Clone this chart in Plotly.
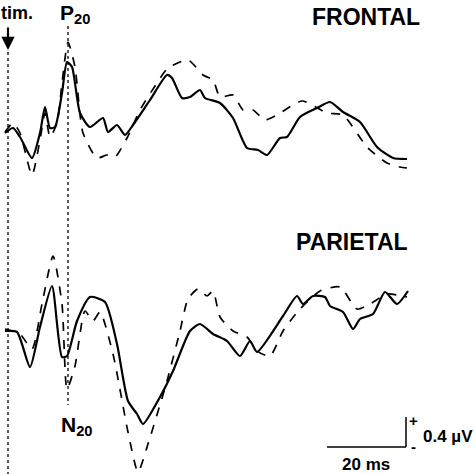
import numpy as np
import plotly.graph_objects as go

MS_PER_SAMPLE = 20 / 78.0
UV_PER_SAMPLE = 0.4 / 30.0

frontal_solid_x = [5, 13, 20, 32, 40, 45, 50, 55, 62, 67, 72, 80, 90, 103, 108, 117, 125, 133, 150, 167, 172, 182, 190, 200, 205, 220, 233, 247, 258, 267, 280, 287, 300, 317, 330, 343, 360, 377, 393, 407]
frontal_solid_y = [133, 128, 137, 158, 133, 107, 128, 127, 93, 62, 67, 113, 127, 118, 132, 125, 135, 125, 100, 75, 78, 98, 97, 90, 98, 103, 118, 148, 150, 155, 138, 137, 117, 108, 102, 112, 122, 147, 158, 159]
frontal_dash_x = [5, 13, 20, 32, 40, 45, 50, 57, 62, 68, 75, 83, 97, 107, 115, 127, 140, 157, 168, 188, 203, 213, 220, 233, 243, 253, 265, 277, 302, 327, 343, 367, 387, 400, 407]
frontal_dash_y = [132, 123, 133, 175, 140, 113, 137, 123, 83, 42, 67, 133, 158, 155, 157, 138, 110, 83, 68, 60, 75, 80, 97, 95, 110, 110, 120, 115, 101, 113, 115, 147, 163, 167, 168]
parietal_solid_x = [5, 17, 30, 40, 52, 62, 67, 77, 90, 105, 117, 128, 137, 143, 160, 173, 190, 200, 213, 227, 240, 250, 257, 283, 297, 303, 313, 325, 330, 343, 353, 360, 373, 385, 397, 408]
parietal_solid_y = [331, 332, 367, 327, 286, 357, 356, 321, 297, 302, 344, 401, 414, 424, 397, 371, 331, 324, 334, 341, 356, 341, 352, 316, 296, 304, 296, 297, 306, 312, 329, 319, 314, 292, 304, 291]
parietal_dash_x = [5, 20, 32, 42, 53, 62, 67, 75, 85, 93, 100, 113, 128, 138, 148, 167, 180, 188, 198, 207, 213, 220, 233, 247, 257, 270, 283, 300, 320, 340, 357, 370, 387, 407]
parietal_dash_y = [329, 334, 349, 304, 256, 304, 389, 366, 311, 321, 312, 354, 432, 472, 444, 381, 331, 299, 289, 296, 291, 317, 331, 337, 351, 356, 331, 309, 291, 287, 309, 304, 294, 297]

STIM = 8

def t(xs):
    return (np.array(xs) - STIM) * MS_PER_SAMPLE

def v(ys):
    return -np.array(ys) * UV_PER_SAMPLE

fig = go.Figure()
for xs, ys, dash in [(frontal_solid_x, frontal_solid_y, "solid"),
                     (frontal_dash_x, frontal_dash_y, "dash"),
                     (parietal_solid_x, parietal_solid_y, "solid"),
                     (parietal_dash_x, parietal_dash_y, "dash")]:
    fig.add_trace(go.Scatter(x=t(xs), y=v(ys), mode="lines", line_shape="spline",
                             line=dict(color="black", width=2.2 if dash == "solid" else 1.7, dash=dash,
                                       smoothing=0.6)))

def px(x): return x / 474
def py(y): return 1 - y / 474

shapes = [
    dict(type="line", xref="paper", yref="paper", x0=px(8), x1=px(8), y0=py(52), y1=py(474), line=dict(color="black", width=1.3, dash="dot")),
    dict(type="line", xref="paper", yref="paper", x0=px(68), x1=px(68), y0=py(26), y1=py(405), line=dict(color="black", width=1.3, dash="dot")),
    dict(type="line", xref="paper", yref="paper", x0=px(327), x1=px(406), y0=py(447), y1=py(447), line=dict(color="black", width=1.5)),
    dict(type="line", xref="paper", yref="paper", x0=px(406), x1=px(406), y0=py(447), y1=py(417), line=dict(color="black", width=1.5)),
]
font = dict(family="Liberation Sans", color="black")
ann = [
    dict(text="<b>tim.</b>", x=px(-1), y=py(13), xanchor="left", font=dict(size=18, **font)),
    dict(text="<b>P<sub>20</sub></b>", x=px(58), y=py(14), xanchor="left", font=dict(size=21, **font)),
    dict(text="<b>FRONTAL</b>", x=px(366), y=py(17), font=dict(size=23, **font)),
    dict(text="<b>PARIETAL</b>", x=px(352), y=py(242), font=dict(size=23, **font)),
    dict(text="<b>N<sub>20</sub></b>", x=px(59), y=py(426), xanchor="left", font=dict(size=21, **font)),
    dict(text="<b>20 ms</b>", x=px(366), y=py(464), font=dict(size=17, **font)),
    dict(text="<b>+</b>", x=px(413), y=py(420), font=dict(size=15, **font)),
    dict(text="<b>-</b>", x=px(413), y=py(446), font=dict(size=15, **font)),
    dict(text="<b>0.4 µV</b>", x=px(421), y=py(436), xanchor="left", font=dict(size=17, **font)),
    dict(text="", x=px(8), y=py(50), ax=0, ay=-24,
         showarrow=True, arrowhead=2, arrowsize=1.2, arrowwidth=2.2, arrowcolor="black"),
]
for a in ann:
    a.setdefault("xref", "paper"); a.setdefault("yref", "paper"); a.setdefault("showarrow", False)
    a.setdefault("xanchor", "center"); a.setdefault("yanchor", "middle")

fig.update_layout(
    width=474, height=474, margin=dict(l=0, r=0, t=0, b=0),
    plot_bgcolor="white", paper_bgcolor="white", showlegend=False,
    xaxis=dict(range=[t([0])[0], t([474])[0]], visible=False),
    yaxis=dict(range=[v([474])[0], v([0])[0]], visible=False),
    shapes=shapes, annotations=ann,
)
fig.write_html("out.html", config={"displayModeBar": False},
               post_script="document.body.style.margin='0px';")
